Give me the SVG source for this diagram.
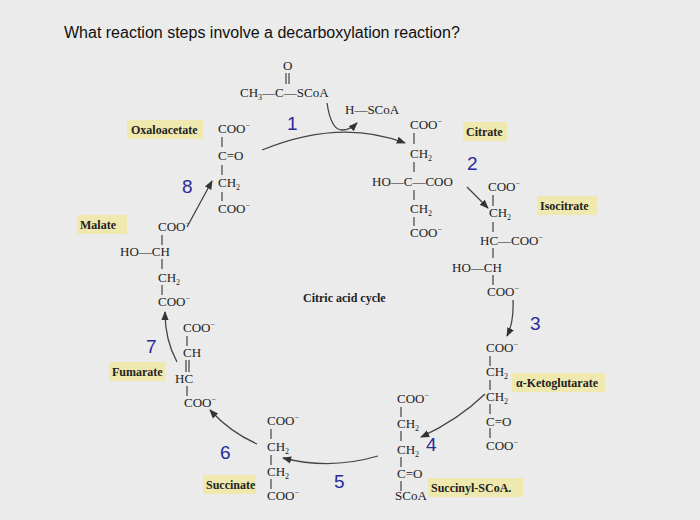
<svg xmlns="http://www.w3.org/2000/svg" width="700" height="520" viewBox="0 0 700 520">
<defs>
<marker id="ah" viewBox="0 0 10 10" refX="9" refY="5" markerWidth="7" markerHeight="7" orient="auto-start-reverse"><path d="M0,1 L10,5 L0,9 z" fill="#333"/></marker>
<style>
.t{font-family:"Liberation Serif",serif;font-size:13px;fill:#222}
.lb{font-family:"Liberation Serif",serif;font-size:12px;font-weight:bold;fill:#222}
.hl{fill:#efe9b0}
.n{font-family:"Liberation Sans",sans-serif;font-size:19px;fill:#2a2a9a}
.b{stroke:#333;stroke-width:1.1;fill:none}
.c{stroke:#444;stroke-width:1.3;fill:none}
.s{font-size:8px}
</style>
</defs>
<rect width="700" height="520" fill="#ebebeb"/>
<text x="64" y="38" font-family="Liberation Sans,sans-serif" font-size="16" fill="#111">What reaction steps involve a decarboxylation reaction?</text>

<g id="acetylcoa">
<text class="t" x="283" y="70">O</text>
<path class="b" d="M286,73V84M289,73V84"/>
<text class="t" x="240" y="97">CH<tspan class="s" dy="3">3</tspan><tspan dy="-3">—C—SCoA</tspan></text>
<text class="t" x="345" y="114">H—SCoA</text>
</g>
<g id="oxaloacetate">
<rect class="hl" x="127" y="120" width="76" height="19"/>
<text class="lb" x="131" y="134">Oxaloacetate</text>
<text class="t" x="218" y="133">COO<tspan class="s" dy="-5">−</tspan></text>
<path class="b" d="M222,137V147M222,165V175M222,192V201"/>
<text class="t" x="218" y="160">C=O</text>
<text class="t" x="218" y="187">CH<tspan class="s" dy="3">2</tspan></text>
<text class="t" x="218" y="213">COO<tspan class="s" dy="-5">−</tspan></text>
</g>
<g id="citrate">
<rect class="hl" x="463" y="122" width="44" height="19"/>
<text class="lb" x="466" y="136">Citrate</text>
<text class="t" x="410" y="129">COO<tspan class="s" dy="-5">−</tspan></text>
<path class="b" d="M414,133V144M414,162V172M414,190V200M414,217V226"/>
<text class="t" x="410" y="158">CH<tspan class="s" dy="3">2</tspan></text>
<text class="t" x="372" y="186">HO—C—COO</text>
<text class="t" x="410" y="213">CH<tspan class="s" dy="3">2</tspan></text>
<text class="t" x="410" y="237">COO<tspan class="s" dy="-5">−</tspan></text>
</g>
<g id="isocitrate">
<rect class="hl" x="537" y="196" width="60" height="19"/>
<text class="lb" x="540" y="210">Isocitrate</text>
<text class="t" x="488" y="191">COO<tspan class="s" dy="-5">−</tspan></text>
<path class="b" d="M493,195V206M493,222V232M493,248V258M493,275V285"/>
<text class="t" x="489" y="217">CH<tspan class="s" dy="3">2</tspan></text>
<text class="t" x="480" y="245">HC—COO<tspan class="s" dy="-5">−</tspan></text>
<text class="t" x="452" y="272">HO—CH</text>
<text class="t" x="487" y="296">COO<tspan class="s" dy="-5">−</tspan></text>
</g>
<g id="ketoglutarate">
<rect class="hl" x="512" y="373" width="93" height="19"/>
<text class="lb" x="516" y="387">α-Ketoglutarate</text>
<text class="t" x="486" y="352">COO<tspan class="s" dy="-5">−</tspan></text>
<path class="b" d="M490,356V366M490,380V390M490,404V414M490,428V438"/>
<text class="t" x="486" y="376">CH<tspan class="s" dy="3">2</tspan></text>
<text class="t" x="486" y="401">CH<tspan class="s" dy="3">2</tspan></text>
<text class="t" x="486" y="426">C=O</text>
<text class="t" x="486" y="450">COO<tspan class="s" dy="-5">−</tspan></text>
</g>
<g id="succinylcoa">
<rect class="hl" x="428" y="478" width="95" height="19"/>
<text class="lb" x="431" y="492">Succinyl-SCoA.</text>
<text class="t" x="397" y="403">COO<tspan class="s" dy="-5">−</tspan></text>
<path class="b" d="M401,407V417M401,431V441M401,457V467M401,481V491"/>
<text class="t" x="397" y="428">CH<tspan class="s" dy="3">2</tspan></text>
<text class="t" x="397" y="454">CH<tspan class="s" dy="3">2</tspan></text>
<text class="t" x="397" y="478">C=O</text>
<text class="t" x="395" y="500">SCoA</text>
</g>
<g id="succinate">
<rect class="hl" x="203" y="475" width="53" height="19"/>
<text class="lb" x="206" y="489">Succinate</text>
<text class="t" x="267" y="425">COO<tspan class="s" dy="-5">−</tspan></text>
<path class="b" d="M271,429V439M271,455V465M271,479V489"/>
<text class="t" x="267" y="451">CH<tspan class="s" dy="3">2</tspan></text>
<text class="t" x="267" y="476">CH<tspan class="s" dy="3">2</tspan></text>
<text class="t" x="267" y="500">COO<tspan class="s" dy="-5">−</tspan></text>
</g>
<g id="fumarate">
<rect class="hl" x="109" y="362" width="56" height="19"/>
<text class="lb" x="112" y="376">Fumarate</text>
<text class="t" x="183" y="332">COO<tspan class="s" dy="-5">−</tspan></text>
<path class="b" d="M187,336V346M186,360V372M189,360V372M187,386V396"/>
<text class="t" x="183" y="357">CH</text>
<text class="t" x="175" y="383">HC</text>
<text class="t" x="184" y="407">COO<tspan class="s" dy="-5">−</tspan></text>
</g>
<g id="malate">
<rect class="hl" x="77" y="215" width="50" height="19"/>
<text class="lb" x="80" y="229">Malate</text>
<text class="t" x="158" y="231">COO<tspan class="s" dy="-5">−</tspan></text>
<path class="b" d="M162,235V245M162,259V269M162,285V295"/>
<text class="t" x="120" y="256">HO—CH</text>
<text class="t" x="158" y="282">CH<tspan class="s" dy="3">2</tspan></text>
<text class="t" x="158" y="306">COO<tspan class="s" dy="-5">−</tspan></text>
</g>
<text class="lb" x="303" y="302">Citric acid cycle</text>

<g id="connectors">
<path class="c" d="M262,150 Q340,118 405,143" marker-end="url(#ah)"/>
<path class="c" d="M327,103 Q331,130 342,130 Q350,130 357,123" marker-end="url(#ah)"/>
<path class="c" d="M467,187 L488,208" marker-end="url(#ah)"/>
<path class="c" d="M513,300 Q514,322 507,336" marker-end="url(#ah)"/>
<path class="c" d="M485,394 Q458,420 421,437" marker-end="url(#ah)"/>
<path class="c" d="M378,456 Q330,470 283,458" marker-end="url(#ah)"/>
<path class="c" d="M257,444 Q230,432 210,410" marker-end="url(#ah)"/>
<path class="c" d="M177,362 Q165,340 165,312" marker-end="url(#ah)"/>
<path class="c" d="M187,227 L212,181" marker-end="url(#ah)"/>
</g>
<g id="numbers">
<text class="n" x="287" y="130">1</text>
<text class="n" x="467" y="170">2</text>
<text class="n" x="530" y="330">3</text>
<text class="n" x="426" y="451">4</text>
<text class="n" x="334" y="488">5</text>
<text class="n" x="220" y="459">6</text>
<text class="n" x="146" y="353">7</text>
<text class="n" x="182" y="193">8</text>
</g>
</svg>
